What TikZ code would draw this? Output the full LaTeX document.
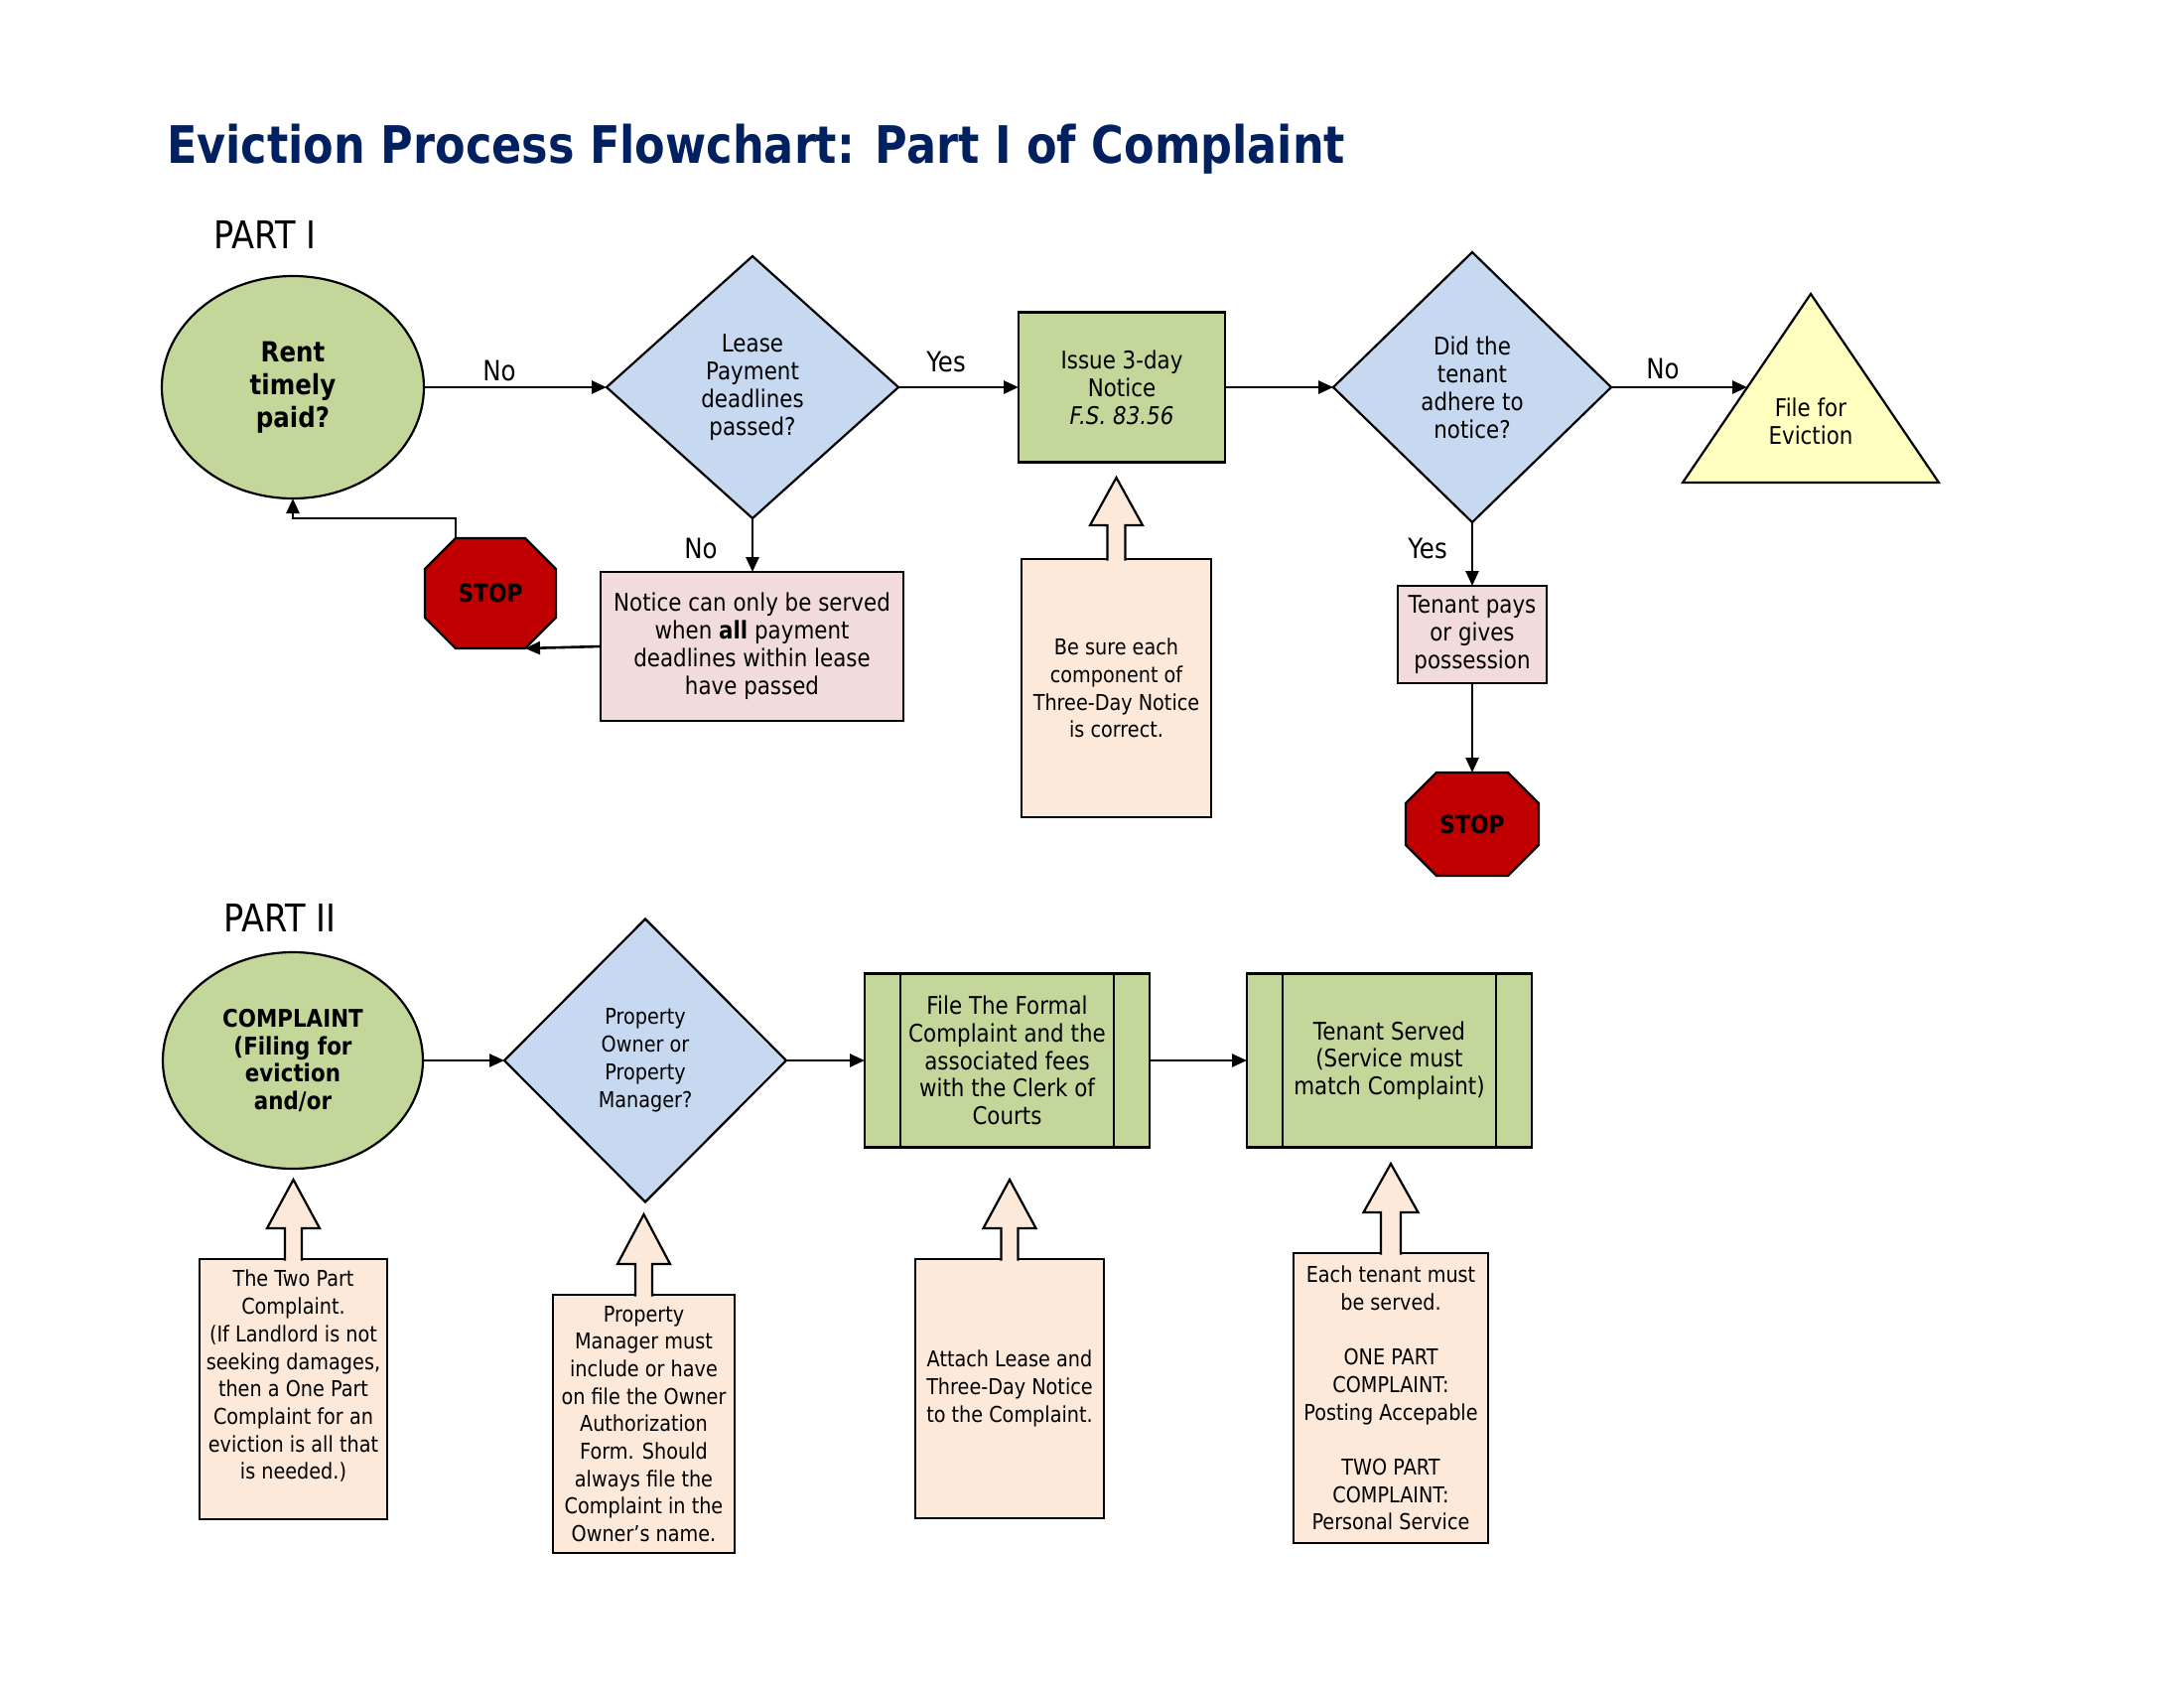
\documentclass[tikz,border=0pt]{standalone}
\usepackage{fontspec}
\setmainfont{DejaVu Sans}[FakeStretch=0.874]
\newfontfamily\titlefont{DejaVu Sans}[FakeStretch=0.857]
\usetikzlibrary{shapes.geometric,arrows.meta,calc}
\definecolor{grn}{RGB}{196,215,155}
\definecolor{blu}{RGB}{198,217,241}
\definecolor{pnk}{RGB}{242,220,219}
\definecolor{pch}{RGB}{253,233,217}
\definecolor{ylw}{RGB}{255,255,192}
\definecolor{stopred}{RGB}{192,0,0}
\definecolor{navy}{RGB}{0,32,96}
\tikzset{
 shapeline/.style={draw=black, line width=2.2pt},
 base/.style={shapeline, inner sep=0pt, outer sep=0pt, align=center, text=black},
 main/.style={font=\fontsize{24.5}{28}\selectfont},
 oval/.style={base, ellipse, fill=grn, font=\bfseries\fontsize{28}{33}\selectfont},
 decision/.style={base, main, diamond, fill=blu},
 procbox/.style={base, main, rectangle, fill=grn},
 notebox/.style={base, main, rectangle, fill=pnk},
 callbox/.style={base, rectangle, fill=pch},
 calltext/.style={align=center, inner sep=0pt, font=\fontsize{22}{27.7}\selectfont},
 arr/.style={line width=2.6pt, -{Triangle[length=15pt,width=13pt]}},
 lbl/.style={inner sep=0pt, font=\fontsize{28}{32}\selectfont},
 partlbl/.style={anchor=base west, inner sep=0pt, font=\fontsize{38.5}{44}\selectfont},
 stopshape/.style={shapeline, fill=stopred},
 stoptext/.style={inner sep=0pt, font=\bfseries\fontsize{25}{28}\selectfont},
 callarrow/.style={shapeline, fill=pch, line join=miter},
}
% octagon: name, cx, cy, half width, half height, corner cut
\newcommand\drawstop[6]{%
  \draw[stopshape] ({#2-#4+#6},{#3-#5}) -- ({#2+#4-#6},{#3-#5}) -- ({#2+#4},{#3-#5+#6})
    -- ({#2+#4},{#3+#5-#6}) -- ({#2+#4-#6},{#3+#5}) -- ({#2-#4+#6},{#3+#5})
    -- ({#2-#4},{#3+#5-#6}) -- ({#2-#4},{#3-#5+#6}) -- cycle;
  \node[stoptext] (#1) at (#2,#3) {STOP};
  \coordinate (#1-tl) at ({#2-#4+#6},{#3-#5});
  \coordinate (#1-top) at (#2,{#3-#5});
  \coordinate (#1-br) at ({#2+#4-#6},{#3+#5});
}
% block arrow up from a box: node, total height, head base, head half width, stem half width
\newcommand\callup[5]{%
  \path[callarrow] ($(#1.north)+(-#5,1.5)$) -- ($(#1.north)+(-#5,-#3)$) -- ($(#1.north)+(-#4,-#3)$)
    -- ($(#1.north)+(0,-#2)$) -- ($(#1.north)+(#4,-#3)$) -- ($(#1.north)+(#5,-#3)$)
    -- ($(#1.north)+(#5,1.5)$);
}
\begin{document}
\begin{tikzpicture}[x=1pt,y=-1pt]
\fill[white] (0,0) rectangle (2200,1700);
\useasboundingbox (0,0) rectangle (2200,1700);

\node[anchor=base west, text=navy, inner sep=0pt, font=\titlefont\bfseries\fontsize{52}{60}\selectfont] (title) at (168,164) {Eviction Process Flowchart: Part I of Complaint};
\node[partlbl] (part1) at (215,250) {PART I};
\node[partlbl] (part2) at (225,938) {PART II};

% ---------- PART I ----------
\node[oval, minimum width=264pt, minimum height=224pt] (e1) at (295,390) {Rent\\timely\\paid?};
\node[decision, minimum width=294pt, minimum height=264pt] (d1) at (758,390) {Lease\\Payment\\deadlines\\passed?};
\node[procbox, minimum width=208pt, minimum height=151pt] (issue) at (1130,390) {Issue 3-day\\Notice\\\textit{F.S. 83.56}};
\node[decision, minimum width=280pt, minimum height=272pt] (d2) at (1483,390) {Did the\\tenant\\adhere to\\notice?};
\draw[shapeline, fill=ylw] (1824,296) -- (1695,486) -- (1953,486) -- cycle;
\node[main, inner sep=0pt, align=center] (tri) at (1824,424) {File for\\Eviction};
\coordinate (triL) at (1760,390);

\node[notebox, minimum width=150pt, minimum height=98pt] (tenant) at (1483,639) {Tenant pays\\or gives\\possession};
\drawstop{stopB}{1483}{830}{67}{52}{31}
\node[notebox, minimum width=305pt, minimum height=150pt] (notice) at (757.5,651) {Notice can only be served\\when \textbf{all} payment\\deadlines within lease\\have passed};
\drawstop{stopA}{494}{597.5}{66}{55.5}{31}

\node[callbox, minimum width=191pt, minimum height=260pt] (cp1) at (1124.5,693) {};
\node[calltext] (cp1t) at (cp1) {Be sure each\\component of\\Three-Day Notice\\is correct.};
\callup{cp1}{82}{34}{26.5}{9}

\draw[arr] (e1.east) -- (d1.west);
\draw[arr] (d1.east) -- (issue.west);
\draw[arr] (issue.east) -- (d2.west);
\draw[arr] (d2.east) -- (triL);
\draw[arr] (d1.south) -- (d1.south |- notice.north);
\draw[arr] (d2.south) -- (tenant.north);
\draw[arr] (tenant.south) -- (stopB-top);
\draw[arr] (notice.west) -- (stopA-br);
\draw[arr] (stopA-tl) -- ++(0,-20) -| (e1.south);

\node[lbl] (l1) at (503,373) {No};
\node[lbl] (l2) at (953,364) {Yes};
\node[lbl] (l3) at (1675,371) {No};
\node[lbl] (l4) at (1438,552) {Yes};
\node[lbl] (l5) at (706,552) {No};

% ---------- PART II ----------
\node[oval, minimum width=262pt, minimum height=218pt, font=\bfseries\fontsize{24.5}{27.6}\selectfont] (e2) at (295,1068) {COMPLAINT\\(Filing for\\eviction\\and/or};
\node[decision, minimum width=284pt, minimum height=285pt, font=\fontsize{22}{28}\selectfont] (d3) at (650,1068) {Property\\Owner or\\Property\\Manager?};
\node[procbox, minimum width=287pt, minimum height=175pt, font=\fontsize{24.5}{27.7}\selectfont] (b3) at (1014.5,1068) {File The Formal\\Complaint and the\\associated fees\\with the Clerk of\\Courts};
\draw[shapeline] ([xshift=36pt]b3.north west) -- ([xshift=36pt]b3.south west);
\draw[shapeline] ([xshift=-36pt]b3.north east) -- ([xshift=-36pt]b3.south east);
\node[procbox, minimum width=287pt, minimum height=175pt, font=\fontsize{24.5}{27.7}\selectfont] (b4) at (1399.5,1068) {Tenant Served\\(Service must\\match Complaint)};
\draw[shapeline] ([xshift=36pt]b4.north west) -- ([xshift=36pt]b4.south west);
\draw[shapeline] ([xshift=-36pt]b4.north east) -- ([xshift=-36pt]b4.south east);

\draw[arr] (e2.east) -- (d3.west);
\draw[arr] (d3.east) -- (b3.west);
\draw[arr] (b3.east) -- (b4.west);

\node[callbox, minimum width=189pt, minimum height=262pt] (c1) at (295.5,1399) {};
\node[calltext] (c1t) at (295.5,1386) {The Two Part\\Complaint.\\(If Landlord is not\\seeking damages,\\then a One Part\\Complaint for an\\eviction is all that\\is needed.)};
\callup{c1}{80}{31}{26.5}{8.5}

\node[callbox, minimum width=183pt, minimum height=260pt] (c2) at (648.5,1434) {};
\node[calltext] (c2t) at (c2) {Property\\Manager must\\include or have\\on file the Owner\\Authorization\\Form. Should\\always file the\\Complaint in the\\Owner's name.};
\callup{c2}{81}{31}{26.5}{8.5}

\node[callbox, minimum width=190pt, minimum height=261pt] (c3) at (1017,1398.5) {};
\node[calltext] (c3t) at (c3) {Attach Lease and\\Three-Day Notice\\to the Complaint.};
\callup{c3}{80}{31}{26.5}{8.5}

\node[callbox, minimum width=196pt, minimum height=292pt] (c4) at (1401,1408) {};
\node[calltext] (c4t) at (c4) {Each tenant must\\be served.\\~\\ONE PART\\COMPLAINT:\\Posting Accepable\\~\\TWO PART\\COMPLAINT:\\Personal Service};
\callup{c4}{90}{41}{27.5}{10}
\end{tikzpicture}
\end{document}
